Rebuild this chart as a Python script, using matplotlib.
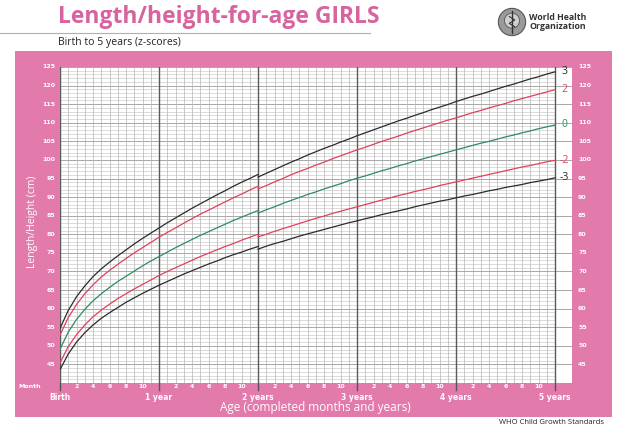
import numpy as np
import matplotlib
matplotlib.use("Agg")
import matplotlib.pyplot as plt
from matplotlib.patches import Rectangle, Circle

# WHO girls length-for-age (0-24 months, lying) and height-for-age (24-60 months, standing)
months_length = list(range(0, 25))
months_height = list(range(24, 61))

sd3neg_length = [43.6, 47.8, 51.0, 53.5, 55.6, 57.4, 58.9, 60.3, 61.7, 62.9, 64.1, 65.2, 66.3,
                 67.3, 68.3, 69.3, 70.2, 71.1, 72.0, 72.8, 73.7, 74.5, 75.2, 76.0, 76.7]
sd2neg_length = [45.4, 49.8, 53.0, 55.6, 57.8, 59.6, 61.2, 62.7, 64.0, 65.3, 66.5, 67.7, 68.9,
                 70.0, 71.0, 72.0, 73.0, 74.0, 74.9, 75.8, 76.7, 77.5, 78.4, 79.2, 80.0]
median_length = [49.1, 53.7, 57.1, 59.8, 62.1, 64.0, 65.7, 67.3, 68.7, 70.1, 71.5, 72.8, 74.0,
                 75.2, 76.4, 77.5, 78.6, 79.7, 80.7, 81.7, 82.7, 83.7, 84.6, 85.5, 86.4]
sd2_length = [52.9, 57.6, 61.1, 64.0, 66.4, 68.5, 70.3, 71.9, 73.5, 75.0, 76.4, 77.8, 79.2,
              80.5, 81.7, 83.0, 84.2, 85.4, 86.5, 87.6, 88.7, 89.8, 90.8, 91.9, 92.9]
sd3_length = [54.7, 59.5, 63.2, 66.1, 68.6, 70.7, 72.5, 74.2, 75.8, 77.4, 78.9, 80.3, 81.7,
              83.1, 84.4, 85.7, 87.0, 88.2, 89.4, 90.6, 91.7, 92.9, 94.0, 95.0, 96.1]

sd3neg_height = [76.0, 76.8, 77.5, 78.1, 78.8, 79.5, 80.1, 80.7, 81.3, 81.9, 82.5, 83.1, 83.6,
                 84.2, 84.7, 85.3, 85.8, 86.3, 86.8, 87.4, 87.9, 88.4, 88.9, 89.3, 89.8,
                 90.3, 90.7, 91.2, 91.7, 92.1, 92.6, 93.0, 93.4, 93.9, 94.3, 94.7, 95.2]
sd2neg_height = [79.3, 80.0, 80.8, 81.5, 82.2, 82.9, 83.6, 84.3, 84.9, 85.6, 86.2, 86.8, 87.4,
                 88.0, 88.6, 89.2, 89.8, 90.4, 90.9, 91.5, 92.0, 92.5, 93.1, 93.6, 94.1,
                 94.6, 95.1, 95.6, 96.1, 96.6, 97.1, 97.6, 98.1, 98.5, 99.0, 99.5, 99.9]
median_height = [85.7, 86.6, 87.4, 88.3, 89.1, 89.9, 90.7, 91.4, 92.2, 92.9, 93.6, 94.4, 95.1,
                 95.7, 96.4, 97.1, 97.7, 98.4, 99.0, 99.7, 100.3, 100.9, 101.5, 102.1, 102.7,
                 103.3, 103.9, 104.5, 105.0, 105.6, 106.2, 106.7, 107.3, 107.8, 108.4, 108.9, 109.4]
sd2_height = [92.2, 93.1, 94.1, 95.0, 96.0, 96.9, 97.7, 98.6, 99.4, 100.3, 101.1, 101.9, 102.7,
              103.4, 104.2, 105.0, 105.7, 106.4, 107.2, 107.9, 108.6, 109.3, 110.0, 110.7, 111.3,
              112.0, 112.7, 113.3, 114.0, 114.6, 115.2, 115.9, 116.5, 117.1, 117.7, 118.3, 118.9]
sd3_height = [95.4, 96.4, 97.4, 98.4, 99.4, 100.3, 101.3, 102.2, 103.1, 103.9, 104.8, 105.6, 106.5,
              107.3, 108.1, 108.9, 109.7, 110.5, 111.2, 112.0, 112.7, 113.5, 114.2, 114.9, 115.7,
              116.4, 117.1, 117.7, 118.4, 119.1, 119.8, 120.4, 121.1, 121.8, 122.4, 123.1, 123.7]

curve_labels = ["3", "2", "0", "-2", "-3"]
year_labels = ["Birth", "1 year", "2 years", "3 years", "4 years", "5 years"]
month_labels = ["2", "4", "6", "8", "10"]
y_ticks = list(range(45, 130, 5))

pink = "#e27aac"
title_pink = "#d8649f"
black_line = "#2b2b2b"
red_line = "#e0405a"
green_line = "#2e8b62"

fig = plt.figure(figsize=(6.3, 4.28), dpi=100)
fig.patch.set_facecolor("white")

# pink panel behind the chart
fig.patches.append(Rectangle((15 / 630, 1 - 417 / 428), (612 - 15) / 630, (417 - 51) / 428,
                             transform=fig.transFigure, facecolor=pink, edgecolor="none", zorder=-5))

# title + rule + subtitle
fig.text(58 / 630, 1 - 17 / 428, "Length/height-for-age GIRLS", color=title_pink,
         fontsize=16.5, fontweight="bold", family="Open Sans", va="center", ha="left")
fig.add_artist(plt.Line2D([0, 370 / 630], [1 - 33 / 428, 1 - 33 / 428], transform=fig.transFigure,
                          color="#c9a0b5", lw=0.8))
fig.text(58 / 630, 1 - 42 / 428, "Birth to 5 years (z-scores)", color="#222222",
         fontsize=7.5, family="Open Sans", va="center", ha="left")

# WHO logo (simplified emblem)
logo = fig.add_axes([497 / 630, 1 - 37 / 428, 30 / 630, 30 / 428])
logo.set_xlim(-1.1, 1.1)
logo.set_ylim(-1.1, 1.1)
logo.set_aspect("equal")
logo.axis("off")
logo.add_patch(Circle((0, 0), 1.0, facecolor="#9a9a9a", edgecolor="#555555", lw=0.8))
logo.add_patch(Circle((0, 0.1), 0.55, facecolor="#d0d0d0", edgecolor="#555555", lw=0.6))
logo.plot([0, 0], [-0.8, 0.8], color="#333333", lw=1.0)
logo.plot([-0.2, 0.2, -0.2, 0.2], [0.4, 0.15, -0.1, -0.35], color="#333333", lw=0.8)
fig.text(529 / 630, 1 - 22 / 428, "World Health\nOrganization", color="#333333", fontsize=6.3,
         fontweight="bold", family="Open Sans", va="center", ha="left", linespacing=0.95)

# chart area
ax = fig.add_axes([60 / 630, 1 - 383 / 428, (572 - 60) / 630, (383 - 67) / 428])
ax.set_zorder(2)
ax.set_facecolor("white")
ax.set_xlim(0, 62.06)
ax.set_ylim(40, 125)

# grid: 1 cm / 1 month, heavier at 5 cm and years
for y in range(40, 126):
    if y % 5 == 0:
        ax.plot([0, 62.06], [y, y], color="#9a9a9a", lw=0.6, zorder=1)
    else:
        ax.plot([0, 60], [y, y], color="#c8c8c8", lw=0.45, zorder=1)
for m in range(0, 61):
    if m % 12 == 0:
        ax.plot([m, m], [40, 125], color="#5a5a5a", lw=1.0, zorder=1.5)
    else:
        ax.plot([m, m], [40, 125], color="#b4b4b4", lw=0.5, zorder=1)

# z-score curves
length_sets = [sd3_length, sd2_length, median_length, sd2neg_length, sd3neg_length]
height_sets = [sd3_height, sd2_height, median_height, sd2neg_height, sd3neg_height]
colors = [black_line, red_line, green_line, red_line, black_line]
for lv, hv, c, lab in zip(length_sets, height_sets, colors, curve_labels):
    ax.plot(months_length, lv, color=c, lw=0.9, zorder=3)
    ax.plot(months_height, hv, color=c, lw=0.9, zorder=3)
    ax.text(61.1, hv[-1], lab, color=c, fontsize=7.5, family="Open Sans",
            ha="center", va="center", zorder=4)

for s in ax.spines.values():
    s.set_visible(False)
ax.set_xticks([])
ax.set_yticks([])

# y tick labels on both sides
for v in y_ticks:
    ax.text(-0.6, v, str(v), color="white", fontsize=4.5, fontweight="bold",
            ha="right", va="center", clip_on=False)
    ax.text(62.8, v, str(v), color="white", fontsize=4.5, fontweight="bold",
            ha="left", va="center", clip_on=False)

# x axis: year ticks hang below the grid, month numbers and year names
for i, yl in enumerate(year_labels):
    m = i * 12
    ax.plot([m, m], [40, 38.2], color="#555555", lw=1.0, clip_on=False)
    ax.text(m, 36.2, yl, color="white", fontsize=5.5, fontweight="bold",
            ha="center", va="center", clip_on=False)
    if i < 5:
        for j, ml in enumerate(month_labels):
            ax.text(m + 2 * (j + 1), 39.0, ml, color="white", fontsize=4.5, fontweight="bold",
                    ha="center", va="center", clip_on=False)
ax.text(-3.7, 39.0, "Month", color="white", fontsize=4.5, fontweight="bold",
        ha="center", va="center", clip_on=False)

fig.text(315 / 630, 1 - 408 / 428, "Age (completed months and years)", color="white",
         fontsize=8.5, family="Open Sans", ha="center", va="center")
fig.text(32 / 630, 1 - 222 / 428, "Length/Height (cm)", color="white", fontsize=7.5,
         family="Open Sans", ha="center", va="center", rotation=90)
fig.text(604 / 630, 1 - 422 / 428, "WHO Child Growth Standards", color="#222222",
         fontsize=5.5, family="Open Sans", ha="right", va="center")

fig.savefig("out.png", dpi=100, facecolor="white")
